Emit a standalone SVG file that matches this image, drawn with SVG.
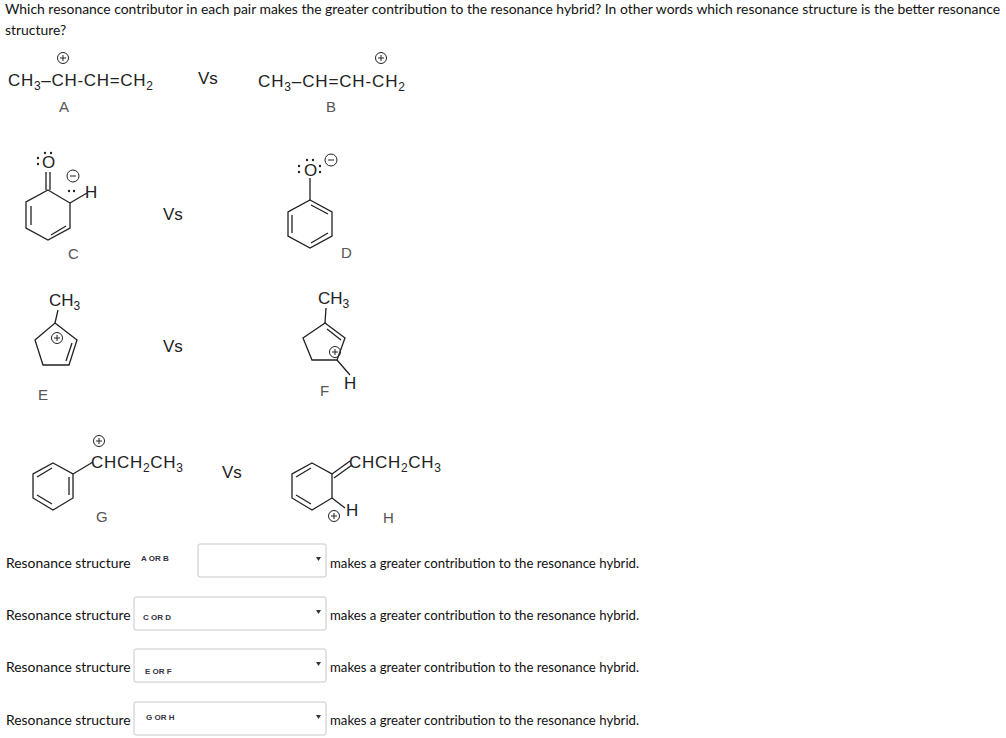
<svg xmlns="http://www.w3.org/2000/svg" width="1006" height="738" viewBox="0 0 1006 738">
<style>
.t{font-family:Lato,"Liberation Sans",sans-serif;font-size:13.9px;fill:#111}
.f{font-family:Lato,"Liberation Sans",sans-serif;font-size:13.2px;fill:#111}
.c{font-family:"Liberation Sans",Arial,sans-serif;font-size:17px;fill:#222}
.s{font-size:12px}
.l{font-family:"Liberation Sans",Arial,sans-serif;font-size:15px;fill:#555}
.b{stroke:#222;stroke-width:1.3;fill:none}
.ch{stroke:#222;stroke-width:1;fill:none}
.d{fill:#222}
.box{fill:#fff;stroke:#c8c8c8;stroke-width:1}
.sm{font-family:"Liberation Sans",Arial,sans-serif;font-size:8px;font-weight:bold;fill:#334}
</style>
<rect width="1006" height="738" fill="#fff"/>
<text class="t" x="5" y="14" textLength="995">Which resonance contributor in each pair makes the greater contribution to the resonance hybrid? In other words which resonance structure is the better resonance</text>
<text class="t" x="5" y="35">structure?</text>

<g id="A">
<text class="c" x="8" y="86" textLength="145">CH<tspan class="s" dy="4">3</tspan><tspan dy="-4">–CH-CH=CH</tspan><tspan class="s" dy="4">2</tspan></text>
<circle class="ch" cx="63" cy="58" r="5.5"/><path class="ch" d="M60 58h6M63 55v6"/>
<text class="l" x="59" y="112">A</text>
</g>
<text class="c" x="198" y="84">Vs</text>
<g id="B">
<text class="c" x="258" y="87" textLength="147">CH<tspan class="s" dy="4">3</tspan><tspan dy="-4">–CH=CH-CH</tspan><tspan class="s" dy="4">2</tspan></text>
<circle class="ch" cx="381" cy="58" r="5.5"/><path class="ch" d="M378 58h6M381 55v6"/>
<text class="l" x="326" y="112">B</text>
</g>

<g id="C">
<path class="b" d="M48 190L70 203L70 228L48 240L26 228L26 202Z"/>
<path class="b" d="M31 206V225M51 235L66 226M46 172V190M50 172V190M70 203L87 193"/>
<text class="c" x="42" y="168">O</text>
<circle class="d" cx="38" cy="158" r="1.2"/><circle class="d" cx="38" cy="164" r="1.2"/>
<circle class="d" cx="45" cy="153" r="1.2"/><circle class="d" cx="51" cy="153" r="1.2"/>
<circle class="d" cx="69" cy="191" r="1.2"/><circle class="d" cx="74" cy="191" r="1.2"/>
<text class="c" x="85" y="198">H</text>
<circle class="ch" cx="73" cy="176" r="6"/><path class="ch" d="M70 176h6"/>
<text class="l" x="68" y="259">C</text>
</g>
<text class="c" x="163" y="220">Vs</text>
<g id="D">
<path class="b" d="M310 200L332 212L332 236L310 248L288 236L288 212Z"/>
<path class="b" d="M292 215V233M311 205L328 214M311 243L328 233M310 200V178"/>
<text class="c" x="304" y="176">O</text>
<circle class="d" cx="299" cy="166" r="1.2"/><circle class="d" cx="299" cy="172" r="1.2"/>
<circle class="d" cx="320" cy="166" r="1.2"/><circle class="d" cx="320" cy="172" r="1.2"/>
<circle class="d" cx="307" cy="160" r="1.2"/><circle class="d" cx="313" cy="160" r="1.2"/>
<circle class="ch" cx="331" cy="160" r="6"/><path class="ch" d="M328 160h6"/>
<text class="l" x="341" y="258">D</text>
</g>

<g id="E">
<text class="c" x="49" y="306">CH<tspan class="s" dy="4">3</tspan></text>
<path class="b" d="M55 323L77 340L69 365L43 365L35 340Z"/>
<path class="b" d="M55 323L58 310M72 343L66 361"/>
<circle class="ch" cx="57" cy="338" r="5.5"/><path class="ch" d="M54 338h6M57 335v6"/>
<text class="l" x="38" y="400">E</text>
</g>
<text class="c" x="163" y="352">Vs</text>
<g id="F">
<text class="c" x="318" y="304">CH<tspan class="s" dy="4">3</tspan></text>
<path class="b" d="M325 323L345 338L337 360L312 360L303 338Z"/>
<path class="b" d="M325 323L326 308M327 329L341 340M337 360L350 375"/>
<circle class="ch" cx="335" cy="352" r="5.5"/><path class="ch" d="M332 352h6M335 349v6"/>
<text class="c" x="344" y="389">H</text>
<text class="l" x="320" y="396">F</text>
</g>

<g id="G">
<path class="b" d="M53 463L73 474L73 498L53 510L33 498L33 474Z"/>
<path class="b" d="M52 468L37 477M69 477V495M37 495L52 504M73 474L93 462"/>
<text class="c" x="91" y="468" textLength="92">CHCH<tspan class="s" dy="4">2</tspan><tspan dy="-4">CH</tspan><tspan class="s" dy="4">3</tspan></text>
<circle class="ch" cx="99" cy="441" r="5.5"/><path class="ch" d="M96 441h6M99 438v6"/>
<text class="l" x="96" y="522">G</text>
</g>
<text class="c" x="222" y="478">Vs</text>
<g id="H">
<path class="b" d="M312 463L332 474L332 498L312 510L292 498L292 474Z"/>
<path class="b" d="M311 468L296 477M296 495L311 504M332 474L350 461M334 478L352 465M332 498L345 508"/>
<text class="c" x="349" y="468" textLength="92">CHCH<tspan class="s" dy="4">2</tspan><tspan dy="-4">CH</tspan><tspan class="s" dy="4">3</tspan></text>
<text class="c" x="346" y="516">H</text>
<circle class="ch" cx="334" cy="516" r="5.5"/><path class="ch" d="M331 516h6M334 513v6"/>
<text class="l" x="383" y="523">H</text>
</g>

<g id="form">
<text class="t" x="6" y="568">Resonance structure</text>
<rect class="box" x="198" y="544" width="128" height="33" rx="2"/>
<text class="sm" x="141" y="561">A OR B</text>
<text class="f" x="330" y="568">makes a greater contribution to the resonance hybrid.</text>

<text class="t" x="6" y="620">Resonance structure</text>
<rect class="box" x="134" y="597" width="192" height="33" rx="2"/>
<text class="sm" x="143" y="620">C OR D</text>
<text class="f" x="330" y="620">makes a greater contribution to the resonance hybrid.</text>

<text class="t" x="6" y="672">Resonance structure</text>
<rect class="box" x="134" y="649" width="192" height="33" rx="2"/>
<text class="sm" x="145" y="674">E OR F</text>
<text class="f" x="330" y="672">makes a greater contribution to the resonance hybrid.</text>

<text class="t" x="6" y="725">Resonance structure</text>
<rect class="box" x="134" y="702" width="192" height="33" rx="2"/>
<text class="sm" x="146" y="720">G OR H</text>
<text class="f" x="330" y="725">makes a greater contribution to the resonance hybrid.</text>
<path d="M316 557h5l-2.5 4z M316 610h5l-2.5 4z M316 662h5l-2.5 4z M316 715h5l-2.5 4z" fill="#333"/>
</g>
</svg>
